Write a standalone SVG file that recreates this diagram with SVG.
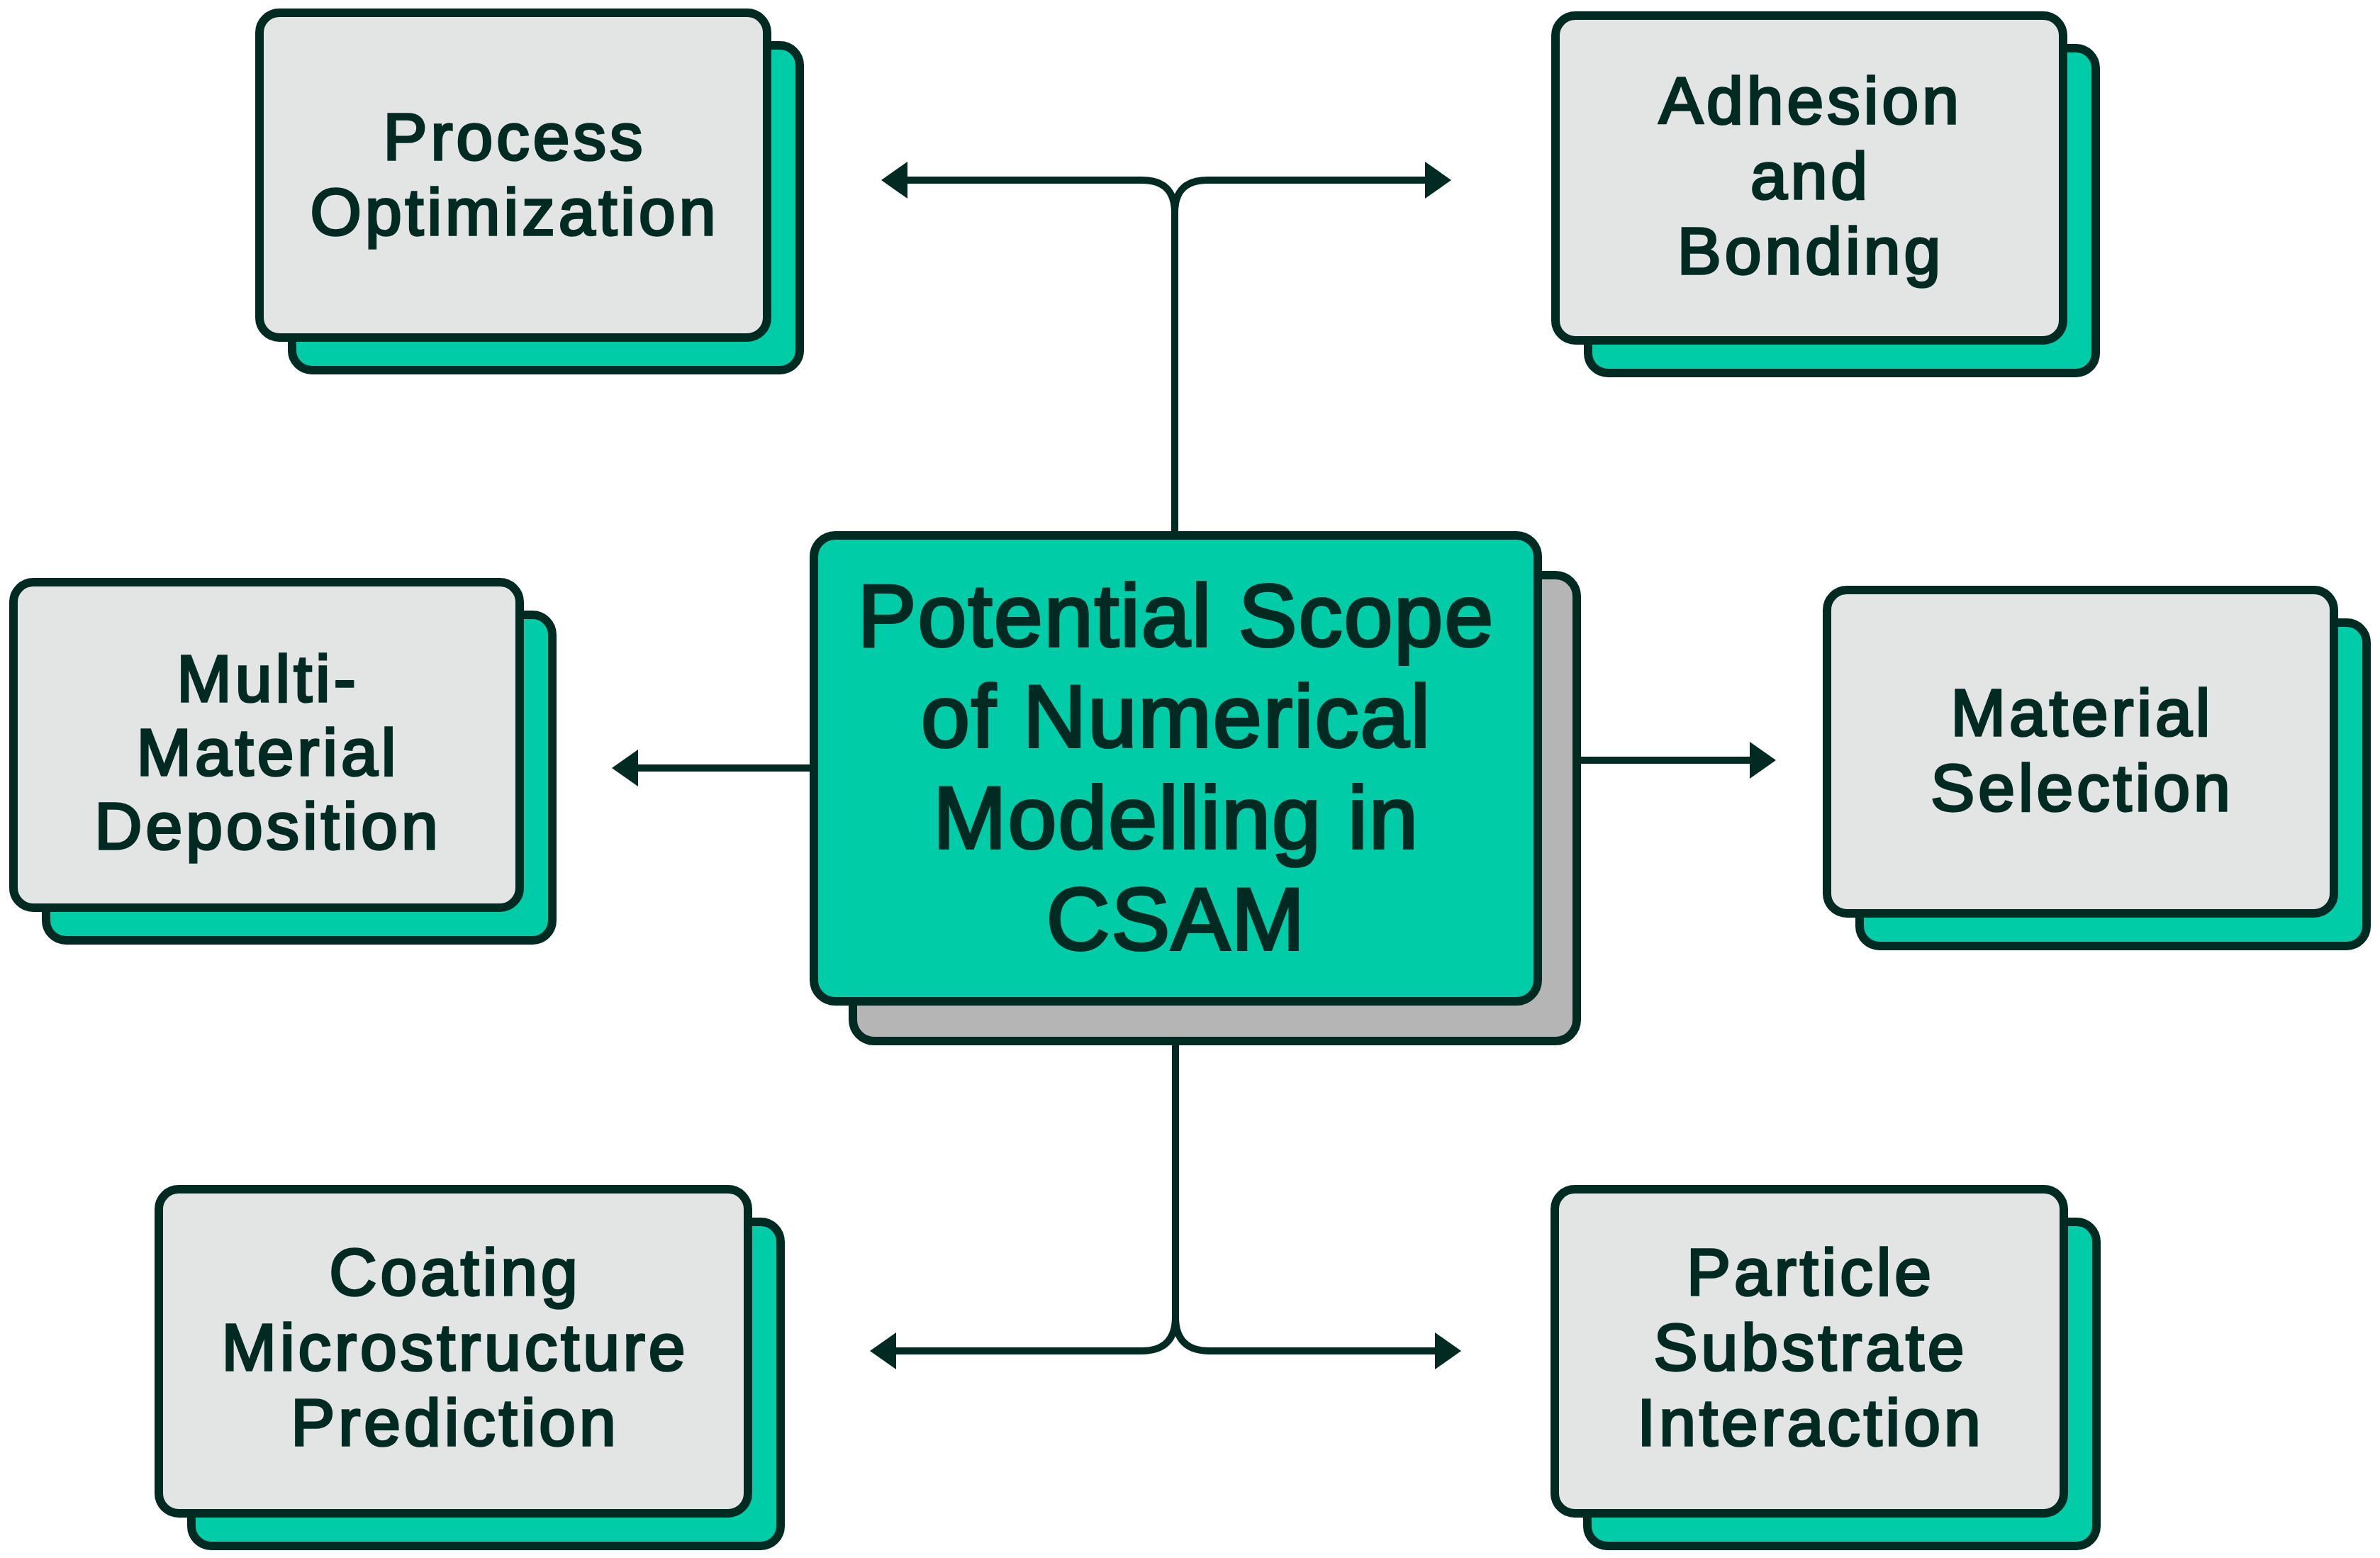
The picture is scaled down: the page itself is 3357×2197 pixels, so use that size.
<svg xmlns="http://www.w3.org/2000/svg" width="3357" height="2197" viewBox="0 0 3357 2197">
<style>
.bk{fill:#00CCA8;stroke:#012A22;stroke-width:12}
.bkg{fill:#B5B5B5;stroke:#012A22;stroke-width:12}
.fr{fill:#E3E5E4;stroke:#012A22;stroke-width:12}
.frc{fill:#00CCA8;stroke:#012A22;stroke-width:12}
.t{font-family:"Liberation Sans",Arial,sans-serif;font-size:93px;letter-spacing:5px;fill:#012A22;stroke:#012A22;stroke-width:3.5;text-anchor:middle}
.tc{font-family:"Liberation Sans",Arial,sans-serif;font-size:124px;letter-spacing:2px;fill:#012A22;stroke:#012A22;stroke-width:4;text-anchor:middle}
.ln{fill:none;stroke:#012A22;stroke-width:10}
</style>
<defs>
<marker id="ah" markerUnits="userSpaceOnUse" viewBox="0 0 37 52" refX="0" refY="26" markerWidth="37" markerHeight="52" orient="auto">
<path d="M0,0 L37,26 L0,52 Z" fill="#012A22"/>
</marker>
</defs>
<rect width="3357" height="2197" fill="#FFFFFF"/>
<g id="connectors">
<path class="ln" marker-end="url(#ah)" d="M1657,755 V300 Q1657,254 1611,254 H1280"/>
<path class="ln" marker-end="url(#ah)" d="M1657,755 V300 Q1657,254 1703,254 H2010"/>
<path class="ln" marker-end="url(#ah)" d="M1658,1468 V1857 Q1658,1905 1610,1905 H1264"/>
<path class="ln" marker-end="url(#ah)" d="M1658,1468 V1857 Q1658,1905 1706,1905 H2024"/>
<path class="ln" marker-end="url(#ah)" d="M1148,1083 H900"/>
<path class="ln" marker-end="url(#ah)" d="M2224,1072 H2468"/>
</g>
<g id="process-optimization">
<rect class="bk" x="412" y="64" width="716" height="458" rx="28"/>
<rect class="fr" x="366" y="18" width="716" height="458" rx="28"/>
<text class="t" x="726" y="225">Process</text>
<text class="t" x="726" y="331">Optimization</text>
</g>
<g id="adhesion-and-bonding">
<rect class="bk" x="2240" y="68" width="716" height="458" rx="28"/>
<rect class="fr" x="2194" y="22" width="716" height="458" rx="28"/>
<text class="t" x="2554" y="174">Adhesion</text>
<text class="t" x="2554" y="280">and</text>
<text class="t" x="2554" y="386">Bonding</text>
</g>
<g id="multi-material-deposition">
<rect class="bk" x="65" y="867" width="714" height="459" rx="28"/>
<rect class="fr" x="19" y="821" width="714" height="459" rx="28"/>
<text class="t" x="378" y="989">Multi-</text>
<text class="t" x="378" y="1093">Material</text>
<text class="t" x="378" y="1197">Deposition</text>
</g>
<g id="central-topic">
<rect class="bkg" x="1203" y="811" width="1021" height="657" rx="30"/>
<rect class="frc" x="1148" y="755" width="1021" height="657" rx="30"/>
<text class="tc" x="1659" y="911">Potential Scope</text>
<text class="tc" x="1659" y="1053">of Numerical</text>
<text class="tc" x="1659" y="1196">Modelling in</text>
<text class="tc" x="1659" y="1339">CSAM</text>
</g>
<g id="material-selection">
<rect class="bk" x="2623" y="878" width="715" height="456" rx="28"/>
<rect class="fr" x="2577" y="832" width="715" height="456" rx="28"/>
<text class="t" x="2937" y="1037">Material</text>
<text class="t" x="2937" y="1143">Selection</text>
</g>
<g id="coating-microstructure-prediction">
<rect class="bk" x="270" y="1723" width="831" height="457" rx="28"/>
<rect class="fr" x="224" y="1677" width="831" height="457" rx="28"/>
<text class="t" x="642" y="1826">Coating</text>
<text class="t" x="642" y="1932">Microstructure</text>
<text class="t" x="642" y="2038">Prediction</text>
</g>
<g id="particle-substrate-interaction">
<rect class="bk" x="2239" y="1723" width="718" height="457" rx="28"/>
<rect class="fr" x="2193" y="1677" width="718" height="457" rx="28"/>
<text class="t" x="2554" y="1826">Particle</text>
<text class="t" x="2554" y="1932">Substrate</text>
<text class="t" x="2554" y="2038">Interaction</text>
</g>
</svg>
